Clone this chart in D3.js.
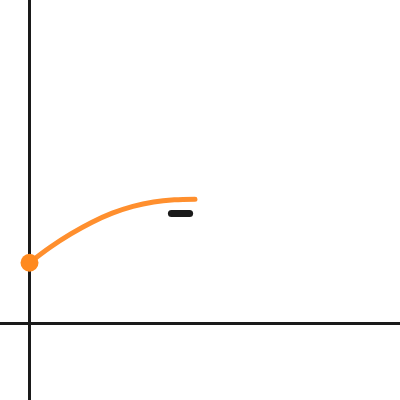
<!DOCTYPE html>
<html><head><meta charset="utf-8">
<script src="https://cdn.jsdelivr.net/npm/d3@7"></script>
<style>html,body{margin:0;padding:0;background:#fff;}svg{display:block;}</style>
</head><body>
<svg id="c" width="400" height="400"></svg>
<script>
const xValues = [0, 0.5, 1, 1.5, 2, 2.5, 3, 3.5, 4];
const yValues = [1.96, 2.46, 2.89, 3.26, 3.56, 3.78, 3.92, 3.99, 4.01];
const markerX = [3.43, 3.87];
const markerY = 3.55;

const svg = d3.select("#c");
const x = d3.scaleLinear().domain([0, 4]).range([29.5, 195]);
const y = d3.scaleLinear().domain([0, 4]).range([323.5, 199.5]);

// axes
svg.append("line").attr("x1", x(0)).attr("x2", x(0)).attr("y1", 0).attr("y2", 400)
  .attr("stroke", "#1a1a1a").attr("stroke-width", 3);
svg.append("line").attr("x1", 0).attr("x2", 400).attr("y1", y(0)).attr("y2", y(0))
  .attr("stroke", "#1a1a1a").attr("stroke-width", 3);

const pts = xValues.map((v, i) => [v, yValues[i]]);
const line = d3.line().x(d => x(d[0])).y(d => y(d[1])).curve(d3.curveCatmullRom);
svg.append("path").attr("d", line(pts)).attr("fill", "none")
  .attr("stroke", "#ff8f2e").attr("stroke-width", 5).attr("stroke-linecap", "round");

svg.append("circle").attr("cx", x(xValues[0])).attr("cy", y(yValues[0])).attr("r", 9)
  .attr("fill", "#ff8a1f");

svg.append("line").attr("x1", x(markerX[0])).attr("x2", x(markerX[1]))
  .attr("y1", y(markerY)).attr("y2", y(markerY))
  .attr("stroke", "#1a1a1a").attr("stroke-width", 7).attr("stroke-linecap", "round");
</script>
</body></html>
